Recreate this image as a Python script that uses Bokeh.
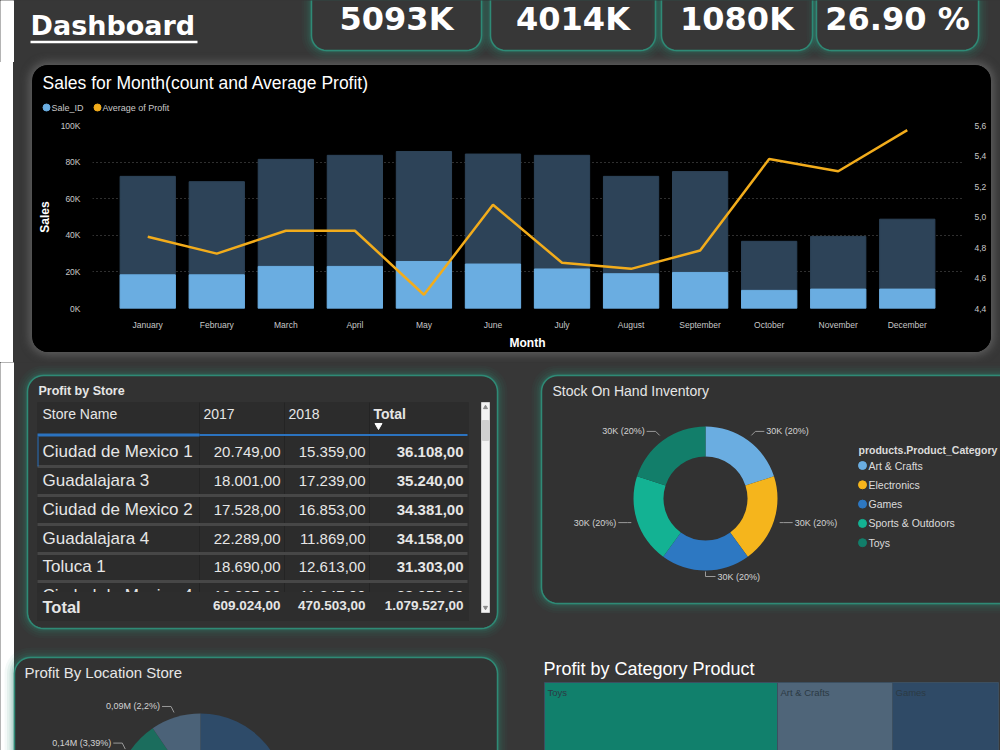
import numpy as np
from bokeh.plotting import figure
from bokeh.models import (FactorRange, Range1d, LinearAxis, CustomJSTickFormatter, FixedTicker,
                          Spacer)
from bokeh.layouts import row, column
from bokeh.embed import file_html
from bokeh.resources import INLINE
from bokeh.core.properties import value

# ---------------- data ----------------
kpi_values = ["5093K", "4014K", "1080K", "26.90 %"]

months = ["January", "February", "March", "April", "May", "June", "July",
          "August", "September", "October", "November", "December"]
sales = [72200, 69300, 81500, 83700, 85800, 84400, 83700, 72200, 74800, 36700, 39400, 48800]
sale_id = [18400, 18400, 23000, 23000, 25700, 24300, 21600, 19000, 19700, 9900, 10600, 10600]
avg_profit = [4.87, 4.76, 4.91, 4.91, 4.49, 5.08, 4.70, 4.66, 4.78, 5.38, 5.30, 5.57]
sales_ticks = [0, 20000, 40000, 60000, 80000, 100000]
profit_ticks = [4.4, 4.6, 4.8, 5.0, 5.2, 5.4, 5.6]
bar_legend = ["Sale_ID", "Average of Profit"]

table_columns = ["Store Name", "2017", "2018", "Total"]
store_names = ["Ciudad de Mexico 1", "Guadalajara 3", "Ciudad de Mexico 2",
               "Guadalajara 4", "Toluca 1", "Ciudad de Mexico 4"]
profit_2017 = [20749, 18001, 17528, 22289, 18690, 16805]
profit_2018 = [15359, 17239, 16853, 11869, 12613, 11247]
profit_total = [36108, 35240, 34381, 34158, 31303, 28052]
grand_totals = [609024, 470503, 1079527]

stock_categories = ["Art & Crafts", "Electronics", "Games", "Sports & Outdoors", "Toys"]
stock_on_hand = [30, 30, 30, 30, 30]  # thousands
stock_colors = ["#6aade1", "#f5b51c", "#2d78c2", "#13b293", "#127e6a"]
stock_legend_title = "products.Product_Category"

location_shares = [0.56, 0.22, 0.125, 0.095]
location_colors = ["#2e4b69", "#6aade1", "#1b6d5d", "#4b6278"]
location_labels = ["0,14M (3,39%)", "0,09M (2,2%)"]

treemap_categories = ["Toys", "Art & Crafts", "Games"]
treemap_profit = [233, 115, 106]
treemap_colors = ["#11806c", "#4f6579", "#2f4a66"]

# ---------------- style ----------------
BG = "#373737"
PANEL = "#323232"
TEAL = "#2f8a76"
TXT = "#e6e6e6"
SANS = "Liberation Sans"
BLUE = "#6aade1"
ORANGE = "#f2ac1b"


def rrect(x0, y0, x1, y1, r, n=10):
    xs, ys = [], []
    corners = [(x1 - r, y0 + r, -90, 0), (x1 - r, y1 - r, 0, 90),
               (x0 + r, y1 - r, 90, 180), (x0 + r, y0 + r, 180, 270)]
    for cx, cy, a0, a1 in corners:
        t = np.radians(np.linspace(a0, a1, n))
        xs += list(cx + r * np.cos(t))
        ys += list(cy + r * np.sin(t))
    return xs, ys


def panel(p, x0, y0, x1, y1, r, fill=PANEL, border=TEAL, glow=TEAL):
    for k, a in [(10, 0.05), (7.5, 0.07), (5, 0.1), (3, 0.14), (1.5, 0.2)]:
        xs, ys = rrect(x0 - k, y0 - k, x1 + k, y1 + k, r + k)
        p.patch(xs, ys, fill_color=glow, fill_alpha=a, line_color=None)
    xs, ys = rrect(x0, y0, x1, y1, r)
    p.patch(xs, ys, fill_color=fill, line_color=border, line_width=1.5)


def canvas(x_left, x_right, y_top, y_bot, bg=BG, white_strip=True, **kw):
    p = figure(width=int(x_right - x_left), height=int(y_bot - y_top), x_range=Range1d(x_left, x_right),
               y_range=Range1d(y_bot, y_top), output_backend="svg", toolbar_location=None,
               min_border=0, x_axis_type=None, y_axis_type=None,
               background_fill_color=bg, border_fill_color=bg, outline_line_color=None, **kw)
    p.grid.visible = False
    if white_strip:
        p.quad(left=0, right=13, top=y_top, bottom=y_bot, color="white")
    return p


def txt(p, x, y, s, size, color=TXT, align="left", bold=False, font=SANS, baseline="middle"):
    p.text(x=x, y=y, text=s, text_font=value(font), text_font_size=f"{size}px",
           text_color=color, text_align=align, text_baseline=baseline,
           text_font_style="bold" if bold else "normal")


# ---------------- header ----------------
head = canvas(0, 1000, 0, 62)
txt(head, [30], [25], ["Dashboard"], 27, color="white", bold=True, font="DejaVu Sans")
head.segment(x0=[30], y0=[41.5], x1=[197], y1=[41.5], line_color="white", line_width=2.5)
card_x = [(311, 481), (490, 655), (661, 812), (816, 978)]
for (a, b), v in zip(card_x, kpi_values):
    panel(head, a, -30, b, 50, 15, fill=BG)
    txt(head, [(a + b) / 2], [18], [v], 32, color="white", align="center", bold=True,
        font="DejaVu Sans")

# ---------------- bar / line chart ----------------
# title strip (1px narrower on each side so its frame is not aligned with the chart's)
ttl = canvas(33, 990, 65, 115, bg="black", white_strip=False)
txt(ttl, [42], [82], ["Sales for Month(count and Average Profit)"], 17.5, color="white")
ttl.scatter(x=[46, 97], y=[107, 107], size=7, color=[BLUE, ORANGE])
txt(ttl, [51, 102], [107, 107], bar_legend, 9, color="#c8c8c8")

bar = figure(width=959, height=237, x_range=FactorRange(*months, range_padding=0.05),
             y_range=Range1d(0, 100000), output_backend="svg", toolbar_location=None,
             min_border_left=60, min_border_right=29, min_border_top=10, min_border_bottom=39,
             background_fill_color="black", border_fill_color="black", outline_line_color=None)
bar.extra_y_ranges = {"profit": Range1d(4.4, 5.6)}
bar.vbar(x=months, top=sales, width=0.8, color="#2d4358")
bar.vbar(x=months, top=sale_id, width=0.8, color=BLUE)
bar.line(x=months, y=avg_profit, y_range_name="profit", color=ORANGE, line_width=2.5)

yax = bar.yaxis[0]
yax.ticker = FixedTicker(ticks=sales_ticks)
yax.formatter = CustomJSTickFormatter(code="return (tick/1000).toFixed(0) + 'K'")
yax.axis_label = "Sales"
raxis = LinearAxis(y_range_name="profit", ticker=FixedTicker(ticks=profit_ticks),
                   formatter=CustomJSTickFormatter(code="return tick.toFixed(1).replace('.', ',')"))
bar.add_layout(raxis, "right")
bar.xaxis.axis_label = "Month"
for ax in [yax, raxis, bar.xaxis[0]]:
    ax.axis_line_color = None
    ax.major_tick_line_color = None
    ax.minor_tick_line_color = None
    ax.major_label_text_color = "#c8c8c8"
    ax.major_label_text_font = SANS
    ax.major_label_text_font_size = "8.5px"
    ax.major_label_standoff = 6
    ax.axis_label_text_color = "white"
    ax.axis_label_text_font = SANS
    ax.axis_label_text_font_size = "12px"
    ax.axis_label_text_font_style = "bold"
bar.xaxis.major_label_standoff = 5
bar.xaxis.axis_label_standoff = 3
yax.axis_label_standoff = 6
bar.xgrid.grid_line_color = None
bar.ygrid.ticker = FixedTicker(ticks=sales_ticks)
bar.ygrid.grid_line_color = "#5e5e5e"
bar.ygrid.grid_line_dash = "1 3"

bar_panel = column(row(Spacer(width=1, height=50), ttl, Spacer(width=1, height=50)), bar,
                   styles={"border-radius": "16px", "overflow": "hidden", "background-color": "black",
                           "box-shadow": "0 0 9px 3px rgba(125,125,125,0.55)"})
row_b = row(Spacer(width=13, height=300, styles={"background-color": "white"}),
            column(Spacer(width=987, height=3),
                   row(Spacer(width=19, height=287), bar_panel, Spacer(width=9, height=287)),
                   Spacer(width=987, height=10)))

# ---------------- bottom area ----------------
bot = canvas(0, 1000, 362, 750)


def fmt(v):
    return f"{v:,.2f}".replace(",", "X").replace(".", ",").replace("X", ".")


# table panel
panel(bot, 27, 375, 497, 628, 16)
txt(bot, [38], [390], ["Profit by Store"], 12.5, bold=True)
bot.quad(left=37, right=468, top=402, bottom=620, color="#2c2c2c")
col_sep = [199, 284, 369]
bot.segment(x0=col_sep, y0=[402] * 3, x1=col_sep, y1=[592] * 3, line_color="#242424", line_width=1)
hdr_x = [42, 203, 288, 373]
txt(bot, hdr_x[:3], [413] * 3, table_columns[:3], 14)
txt(bot, [hdr_x[3]], [413], [table_columns[3]], 14, bold=True)
bot.scatter(x=[378], y=[425], marker="inverted_triangle", size=7, color="white")
bot.segment(x0=[37], y0=[434.5], x1=[199], y1=[434.5], line_color="#2b73c0", line_width=3)
bot.segment(x0=[199], y0=[434.5], x1=[467], y1=[434.5], line_color="#2b73c0", line_width=2)
row_y = [451, 480, 509, 538, 566, 595]
sep_y = [y + 15 for y in row_y[:5]]
bot.segment(x0=[37] * 5, y0=sep_y, x1=[467] * 5, y1=sep_y, line_color="#474747", line_width=3)
bot.segment(x0=[37.5], y0=[436], x1=[37.5], y1=[466], line_color="#2b73c0", line_width=1)
txt(bot, [42] * 6, row_y, store_names, 17)
txt(bot, [280] * 6, row_y, [fmt(v) for v in profit_2017], 15, align="right")
txt(bot, [365] * 6, row_y, [fmt(v) for v in profit_2018], 15, align="right")
txt(bot, [463] * 6, row_y, [fmt(v) for v in profit_total], 15, align="right", bold=True)
bot.quad(left=37, right=468, top=592, bottom=620, color="#2d2d2d")
txt(bot, [42], [606], ["Total"], 16.5, bold=True)
txt(bot, [280, 365, 463], [605] * 3, [fmt(v) for v in grand_totals], 13.5, align="right", bold=True)
bot.quad(left=481, right=489, top=402, bottom=612, fill_color="#f2f2f2", line_color="#cfcfcf")
bot.quad(left=482, right=488, top=420, bottom=440, color="#d0d0d0")
bot.scatter(x=[485, 485], y=[407, 607], marker=["triangle", "inverted_triangle"], size=4,
            color="#8a8a8a")

# donut panel
panel(bot, 541, 375, 1015, 603, 16)
txt(bot, [552], [390], ["Stock On Hand Inventory"], 14)
cx, cy, r_in, r_out = 705, 498, 42, 72
tot = float(sum(stock_on_hand))
fr = np.cumsum([0] + [v / tot for v in stock_on_hand])
starts = [np.pi / 2 - 2 * np.pi * f for f in fr[:-1]]
ends = [np.pi / 2 - 2 * np.pi * f for f in fr[1:]]
bot.annular_wedge(x=cx, y=cy, inner_radius=r_in, outer_radius=r_out, start_angle=starts,
                  end_angle=ends, direction="clock", color=stock_colors, line_color=None)
for i, v in enumerate(stock_on_hand):
    mid = 2 * np.pi * (fr[i] + fr[i + 1]) / 2  # clockwise from top
    sx, sy = cx + 78 * np.sin(mid), cy - 78 * np.cos(mid)
    lab = f"{v}K ({v / tot * 100:.0f}%)"
    s = np.sin(mid)
    if abs(s) < 0.2:
        xs, ys = [sx, sx, sx + 10], [sy - 5, sy, sy]
        tx, al = sx + 12, "left"
    elif s > 0:
        dy = -4 if np.cos(mid) > 0 else 0
        xs, ys = [sx, sx + 4, sx + 13], [sy, sy + dy, sy + dy]
        tx, al = sx + 15, "left"
    else:
        dy = -4 if np.cos(mid) > 0 else 0
        xs, ys = [sx, sx - 4, sx - 13], [sy, sy + dy, sy + dy]
        tx, al = sx - 15, "right"
    bot.line(xs, ys, line_color="#9a9a9a", line_width=1)
    txt(bot, [tx], [ys[-1]], [lab], 9, color="#d2d2d2", align=al)
txt(bot, [858], [449], [stock_legend_title], 10.5, bold=True, color="#dcdcdc")
leg_y = [465 + 19.3 * i for i in range(5)]
bot.scatter(x=[862] * 5, y=leg_y, size=8, color=stock_colors)
txt(bot, [868] * 5, leg_y, stock_categories, 10.5, color="#dcdcdc")

# pie panel
panel(bot, 14, 657, 497, 820, 16)
txt(bot, [24], [672], ["Profit By Location Store"], 15)
pcx, pcy, pr = 200, 798, 85
pf = np.cumsum([0] + location_shares)
bot.wedge(x=pcx, y=pcy, radius=pr,
          start_angle=[np.pi / 2 - 2 * np.pi * f for f in pf[:-1]],
          end_angle=[np.pi / 2 - 2 * np.pi * f for f in pf[1:]],
          direction="clock", color=location_colors, line_color=None)
for k, lab in zip([2, 3], location_labels):
    mid = 2 * np.pi * (pf[k] + pf[k + 1]) / 2
    sx, sy = pcx + 90 * np.sin(mid), pcy - 90 * np.cos(mid)
    xs, ys = [sx, sx - 3, sx - 12], [sy, sy - 6, sy - 6]
    bot.line(xs, ys, line_color="#9a9a9a", line_width=1)
    txt(bot, [sx - 14], [sy - 6], [lab], 9, color="#d2d2d2", align="right")

# treemap
txt(bot, [543], [668], ["Profit by Category Product"], 18, color="white")
tx0, tx1 = 544, 998
tw = (tx1 - tx0) / float(sum(treemap_profit))
lefts = [tx0 + tw * s for s in np.cumsum([0] + treemap_profit[:-1])]
rights = [tx0 + tw * s for s in np.cumsum(treemap_profit)]
bot.quad(left=lefts, right=rights, top=682, bottom=770, fill_color=treemap_colors,
         line_color="#3c4f60", line_width=1)
txt(bot, [l + 3 for l in lefts], [692] * 3, treemap_categories, 9.5, color="#2c3a44")

root = column(head, row_b, bot, styles={"background-color": BG})
open("out.html", "w").write(file_html(root, INLINE))
